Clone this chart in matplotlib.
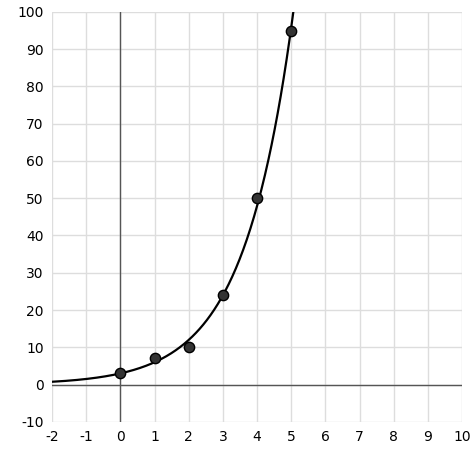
import numpy as np
import matplotlib.pyplot as plt

plt.rcParams['axes.unicode_minus'] = False

# data points
xs = [0, 1, 2, 3, 4, 5]
ys = [3, 7, 10, 24, 50, 95]

# exponential model y = a * b**x
a = 3.0
b = 2.0

x_ticks = list(range(-2, 11))
y_ticks = list(range(-10, 101, 10))

fig = plt.figure(figsize=(4.74, 4.58), dpi=100)
ax = fig.add_axes([0.11, 0.079, 0.865, 0.895])

xc = np.linspace(-2, np.log(100 / a) / np.log(b), 400)
ax.plot(xc, a * b ** xc, color='black', lw=1.6, zorder=3)
ax.scatter(xs, ys, s=55, color='#333333', edgecolor='black', linewidth=1, zorder=4)

ax.axhline(0, color='#555555', lw=1, zorder=2)
ax.axvline(0, color='#555555', lw=1, zorder=2)

ax.set_xlim(-2, 10)
ax.set_ylim(-10, 100)
ax.set_xticks(x_ticks)
ax.set_yticks(y_ticks)
ax.grid(True, color='#dddddd', lw=1, zorder=0)
ax.set_axisbelow(True)
ax.tick_params(length=0, labelsize=10, colors='black', pad=6)
for s in ax.spines.values():
    s.set_visible(False)

fig.savefig('out.png')
